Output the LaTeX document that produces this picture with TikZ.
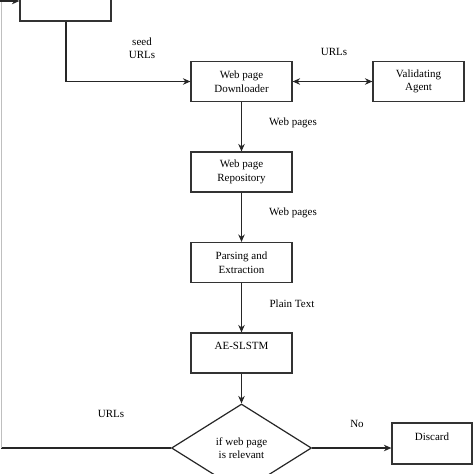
\documentclass[tikz,border=0pt]{standalone}
\usepackage{fontspec}
\setmainfont{Liberation Serif}
\usetikzlibrary{shapes.geometric,arrows.meta}
\begin{document}
\begin{tikzpicture}[x=1pt,y=-1pt,
  font=\fontsize{11}{13.5}\selectfont,
  box/.style={draw=black!80,line width=1.2pt,rectangle,minimum width=101pt,minimum height=40pt,inner sep=0pt,align=center},
  dec/.style={draw=black!85,line width=1.2pt,diamond,minimum width=140pt,minimum height=88pt,inner sep=0pt,align=center},
  lbl/.style={inner sep=0pt,align=center},
  conn/.style={line width=1.2pt,draw=black!85},
  arr/.style={conn,-{Stealth[length=7.5pt,width=6.5pt]}}
]
\useasboundingbox (0,0) rectangle (474,474);
\clip (0,0) rectangle (474,474);
\fill[white] (0,0) rectangle (474,474);
% nodes
\node[box,minimum width=91pt,minimum height=32pt] (top) at (65.5,5) {};
\node[box] (down) at (241.5,81.5) {Web page\\Downloader};
\node[box,minimum width=91pt] (valid) at (418.5,81.5) {Validating\\Agent};
\node[box] (repo) at (241.5,172) {Web page\\Repository};
\node[box] (parse) at (241.5,262.5) {Parsing and\\Extraction};
\node[box] (ae) at (241.5,353) {AE-SLSTM\\\mbox{}};
\node[dec] (dia) at (241.5,448) {if web page\\is relevant};
\node[box,minimum width=80pt,minimum height=41pt] (disc) at (432,443.5) {Discard\\\mbox{}};
% labels
\node[lbl] (lseed) at (142,48) {seed\\URLs};
\node[lbl] (lurl1) at (334,52) {URLs};
\node[lbl] (lwp1) at (293,123) {Web pages};
\node[lbl] (lwp2) at (293,213) {Web pages};
\node[lbl] (lpt) at (292,304) {Plain Text};
\node[lbl] (lurl2) at (111,414) {URLs};
\node[lbl] (lno) at (357,424) {No};
% coordinates
\coordinate (c1) at (66,81.5);
\coordinate (c2) at (1,448);
\coordinate (c3) at (1.5,448);
\coordinate (c4) at (1.5,1);
\coordinate (c5) at (0,1);
% connectors
\draw[arr] (top.south -| c1) -- (c1) -- (down.west);
\draw[conn,{Stealth[length=7.5pt,width=6.5pt]}-{Stealth[length=7.5pt,width=6.5pt]}] (down.east) -- (valid.west);
\draw[arr] (down) -- (repo);
\draw[arr] (repo) -- (parse);
\draw[arr] (parse) -- (ae);
\draw[arr] (ae) -- (dia);
\draw[arr] (dia.east) -- (dia.east -| disc.west);
\draw[conn] (dia.west) -- (c2);
\draw[line width=1.6pt,draw=black!25] (c3) -- (c4);
\draw[arr] (c5) -- (c5 -| top.west);
\end{tikzpicture}
\end{document}
